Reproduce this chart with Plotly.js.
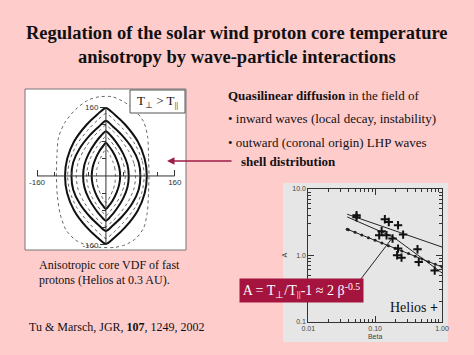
<!DOCTYPE html>
<html>
<head>
<meta charset="utf-8">
<script src="https://cdn.plot.ly/plotly-3.0.1.min.js"></script>
<style>html,body{margin:0;padding:0;background:#FFCCCC;}#chart{width:474px;height:355px;}</style>
</head>
<body>
<div id="chart"></div>
<script>
// ---------- Left panel: VDF contours (quarter profiles, v_par = x, v_perp = y) ----------
const solid1X = [95, 90, 74, 45, 20, 0];
const solid1Y = [0, 40, 80, 119, 143, 158];
const solid2X = [80, 76, 61, 36, 16, 0];
const solid2Y = [0, 32, 64, 96, 115, 128];
const solid3X = [53, 50, 40, 24, 11, 0];
const solid3Y = [0, 26, 52, 78, 94, 104];
const solid4X = [33, 31, 25, 15, 7, 0];
const solid4Y = [0, 19, 38, 58, 69, 77];

const dot2X = [89, 84, 68, 40, 18, 0];
const dot2Y = [0, 36, 73, 109, 131, 145];
const dot3X = [69, 65, 52, 31, 14, 0];
const dot3Y = [0, 30, 59, 89, 106, 118];
const dot4X = [45, 42, 34, 20, 9, 0];
const dot4Y = [0, 23, 46, 69, 83, 92];
const dot5X = [22, 21, 17, 10, 5, 0];
const dot5Y = [0, 16, 31, 47, 56, 62];

// outermost irregular dotted contour (full loop)
const outerDotX = [100, 99, 97, 88, 68, 42, 15, -15, -42, -70, -95, -110, -114, -115, -113, -106, -93, -72, -42, -10, 20, 45, 70, 88, 96, 99, 100];
const outerDotY = [0, 45, 90, 125, 152, 172, 184, 184, 176, 155, 125, 90, 45, 0, -45, -90, -125, -148, -162, -166, -166, -160, -145, -120, -85, -40, 0];

const vdfTickVals = [-160, 160];
const vdfTickText = ['-160', '160'];
const vdfMinor = [-120, -80, -40, 40, 80, 120];

// ---------- Right panel: anisotropy A vs beta ----------
const heliosBeta = [0.0527, 0.0527, 0.1396, 0.160, 0.220, 0.125, 0.115, 0.148, 0.182, 0.262, 0.220, 0.430, 0.213, 0.248, 0.449, 0.778];
const heliosA    = [4.02, 3.75, 3.50, 3.18, 2.84, 2.30, 2.00, 2.00, 1.79, 2.05, 1.26, 1.23, 1.00, 0.92, 0.79, 0.59];

const fitUpperBeta = [0.0382, 1.0];
const fitUpperA    = [4.16, 1.33];
const fitMidBeta   = [0.0382, 0.186, 1.0];
const fitMidA      = [3.79, 1.89, 0.54];
const fitLowBeta   = [0.0382, 0.0398, 0.0501, 0.0631, 0.0794, 0.1, 0.126, 0.158, 0.2, 0.251, 0.316, 0.398, 0.501, 0.631, 0.794, 1.0];
const fitLowA      = [2.47, 2.43, 2.22, 2.02, 1.84, 1.68, 1.53, 1.39, 1.27, 1.16, 1.06, 0.963, 0.878, 0.80, 0.73, 0.665];

const calloutBeta = [0.0592, 0.182];
const calloutA    = [0.419, 1.85];

const betaTickVals = [0.01, 0.1, 1];
const betaTickText = ['0.01', '0.10', '1.00'];
const aTickVals = [0.1, 1, 10];
const aTickText = ['0.1', '1.0', '10.0'];
const betaMinor = [0.02,0.03,0.04,0.05,0.06,0.07,0.08,0.09,0.2,0.3,0.4,0.5,0.6,0.7,0.8,0.9];
const aMinor = [0.2,0.3,0.4,0.5,0.6,0.7,0.8,0.9,2,3,4,5,6,7,8,9];

// ---------- helpers ----------
function mirrorLoop(qx, qy) {
  const X = [], Y = [];
  const n = qx.length;
  for (let i = 0; i < n; i++) { X.push(qx[i]); Y.push(qy[i]); }
  for (let i = n - 2; i >= 0; i--) { X.push(-qx[i]); Y.push(qy[i]); }
  for (let i = 1; i < n; i++) { X.push(-qx[i]); Y.push(-qy[i]); }
  for (let i = n - 2; i >= 0; i--) { X.push(qx[i]); Y.push(-qy[i]); }
  return {X, Y};
}
function contourTrace(qx, qy, solid) {
  const l = mirrorLoop(qx, qy);
  return {
    x: l.X, y: l.Y, xaxis: 'x', yaxis: 'y', mode: 'lines', type: 'scatter',
    hoverinfo: 'skip',
    line: solid ? {color: '#111', width: 2, shape: 'spline', smoothing: 0.7}
                : {color: '#666', width: 1, dash: 'dot', shape: 'spline', smoothing: 0.7}
  };
}
const px = v => v / 474;
const py = v => 1 - v / 355;

const traces = [
  {x: outerDotX, y: outerDotY, xaxis: 'x', yaxis: 'y', mode: 'lines', type: 'scatter', hoverinfo: 'skip',
   line: {color: '#666', width: 1, dash: 'dot', shape: 'spline', smoothing: 0.7}},
  contourTrace(dot2X, dot2Y, false),
  contourTrace(dot3X, dot3Y, false),
  contourTrace(dot4X, dot4Y, false),
  contourTrace(dot5X, dot5Y, false),
  contourTrace(solid1X, solid1Y, true),
  contourTrace(solid2X, solid2Y, true),
  contourTrace(solid3X, solid3Y, true),
  contourTrace(solid4X, solid4Y, true),
  // right panel
  {x: fitUpperBeta, y: fitUpperA, xaxis: 'x2', yaxis: 'y2', mode: 'lines', type: 'scatter',
   line: {color: '#222', width: 1}},
  {x: fitMidBeta, y: fitMidA, xaxis: 'x2', yaxis: 'y2', mode: 'lines', type: 'scatter',
   line: {color: '#222', width: 1}},
  {x: fitLowBeta, y: fitLowA, xaxis: 'x2', yaxis: 'y2', mode: 'lines+markers', type: 'scatter',
   line: {color: '#222', width: 1}, marker: {color: '#222', size: 3}},
  {x: calloutBeta, y: calloutA, xaxis: 'x2', yaxis: 'y2', mode: 'lines', type: 'scatter',
   line: {color: '#222', width: 1}},
  {x: heliosBeta, y: heliosA, xaxis: 'x2', yaxis: 'y2', mode: 'markers', type: 'scatter',
   marker: {symbol: 'cross-thin', size: 6, line: {color: '#111', width: 2}}}
];

const serif = 'Liberation Serif';
const sans = 'Liberation Sans';

const layout = {
  width: 474, height: 355,
  margin: {l: 0, r: 0, t: 0, b: 0},
  paper_bgcolor: '#FFCCCC',
  plot_bgcolor: 'rgba(0,0,0,0)',
  showlegend: false,
  font: {family: serif},
  xaxis: {
    domain: [px(25), px(186)], range: [-188, 186], anchor: 'free', position: py(176),
    tickmode: 'array', tickvals: vdfTickVals, ticktext: vdfTickText,
    ticks: 'inside', ticklen: 6, tickcolor: '#333', showline: false, showgrid: false, zeroline: false,
    minor: {tickmode: 'array', tickvals: vdfMinor, ticks: 'inside', ticklen: 4, tickcolor: '#333', showgrid: false},
    tickfont: {family: sans, size: 8, color: '#333'}, fixedrange: true
  },
  yaxis: {
    domain: [py(250), py(89)], range: [-172, 202], anchor: 'free', position: px(106),
    tickmode: 'array', tickvals: vdfTickVals, ticktext: vdfTickText,
    ticks: 'outside', ticklen: 6, tickcolor: '#333', showline: false, showgrid: false, zeroline: false,
    minor: {tickmode: 'array', tickvals: vdfMinor, ticks: 'outside', ticklen: 4, tickcolor: '#333', showgrid: false},
    tickfont: {family: sans, size: 8, color: '#333'}, fixedrange: true
  },
  xaxis2: {
    type: 'log', domain: [px(308.3), px(442)], range: [-2, 0], anchor: 'y2',
    tickmode: 'array', tickvals: betaTickVals, ticktext: betaTickText,
    ticks: 'inside', ticklen: 6, tickcolor: '#333', mirror: 'allticks', showline: true, linecolor: '#333', linewidth: 1,
    showgrid: false, zeroline: false,
    minor: {tickmode: 'array', tickvals: betaMinor, ticks: 'inside', ticklen: 3, tickcolor: '#333', showgrid: false},
    tickfont: {family: sans, size: 7, color: '#444'},
    title: {text: 'Beta', font: {family: sans, size: 7, color: '#444'}, standoff: 3}
  },
  yaxis2: {
    type: 'log', domain: [py(321.5), py(189)], range: [-1, 1], anchor: 'x2',
    tickmode: 'array', tickvals: aTickVals, ticktext: aTickText,
    ticks: 'inside', ticklen: 6, tickcolor: '#333', mirror: 'allticks', showline: true, linecolor: '#333', linewidth: 1,
    showgrid: false, zeroline: false,
    minor: {tickmode: 'array', tickvals: aMinor, ticks: 'inside', ticklen: 3, tickcolor: '#333', showgrid: false},
    tickfont: {family: sans, size: 7, color: '#444'},
    title: {text: 'A', font: {family: sans, size: 7, color: '#444'}, standoff: 3}
  },
  shapes: [
    {type: 'rect', xref: 'paper', yref: 'paper', x0: px(25), x1: px(186), y0: py(250), y1: py(89),
     fillcolor: '#FFFFFF', line: {color: '#777', width: 1}, layer: 'below'},
    {type: 'rect', xref: 'paper', yref: 'paper', x0: px(283), x1: px(448), y0: py(342), y1: py(183),
     fillcolor: '#E6E6E6', line: {width: 0}, layer: 'below'},
    {type: 'line', xref: 'x', yref: 'y', x0: -160, x1: 160, y0: 0, y1: 0, line: {color: '#333', width: 1}},
    {type: 'line', xref: 'x', yref: 'y', x0: 0, x1: 0, y0: -160, y1: 160, line: {color: '#333', width: 1}},
    {type: 'rect', xref: 'paper', yref: 'paper', x0: px(130), x1: px(185), y0: py(113), y1: py(90),
     fillcolor: '#FFFFFF', line: {color: '#555', width: 1}}
  ],
  annotations: [
    {xref: 'paper', yref: 'paper', x: 0.5, y: py(45), xanchor: 'center', yanchor: 'middle', showarrow: false,
     text: '<b>Regulation of the solar wind proton core temperature<br>anisotropy by wave-particle interactions</b>',
     font: {family: serif, size: 18.5, color: '#111'}},
    {xref: 'paper', yref: 'paper', x: px(157.5), y: py(101.5), xanchor: 'center', yanchor: 'middle', showarrow: false,
     text: 'T<sub>⊥</sub> &gt; T<sub>||</sub>', font: {family: serif, size: 13, color: '#111'}},
    {xref: 'paper', yref: 'paper', x: px(167), y: py(161), ax: 66, ay: 0, showarrow: true, text: '',
     arrowhead: 2, arrowsize: 1, arrowwidth: 1.5, arrowcolor: '#9C1C44'},
    {xref: 'paper', yref: 'paper', x: px(226), y: py(96), xanchor: 'left', yanchor: 'middle', showarrow: false,
     text: '<b>Quasilinear diffusion</b> in the field of', font: {family: serif, size: 13, color: '#111'}},
    {xref: 'paper', yref: 'paper', x: px(226), y: py(118), xanchor: 'left', yanchor: 'middle', showarrow: false,
     text: '• inward waves (local decay, instability)', font: {family: serif, size: 13, color: '#111'}},
    {xref: 'paper', yref: 'paper', x: px(226), y: py(142), xanchor: 'left', yanchor: 'middle', showarrow: false,
     text: '• outward (coronal origin) LHP waves', font: {family: serif, size: 13, color: '#111'}},
    {xref: 'paper', yref: 'paper', x: px(239), y: py(161), xanchor: 'left', yanchor: 'middle', showarrow: false,
     text: '<b>shell distribution</b>', font: {family: serif, size: 13, color: '#111'}},
    {xref: 'paper', yref: 'paper', x: px(37), y: py(265), xanchor: 'left', yanchor: 'middle', showarrow: false,
     text: 'Anisotropic core VDF of fast', font: {family: serif, size: 12, color: '#111'}},
    {xref: 'paper', yref: 'paper', x: px(37), y: py(280), xanchor: 'left', yanchor: 'middle', showarrow: false,
     text: 'protons (Helios at 0.3 AU).', font: {family: serif, size: 12, color: '#111'}},
    {xref: 'paper', yref: 'paper', x: px(27), y: py(327), xanchor: 'left', yanchor: 'middle', showarrow: false,
     text: 'Tu &amp; Marsch, JGR, <b>107</b>, 1249, 2002', font: {family: serif, size: 12, color: '#111'}},
    {xref: 'paper', yref: 'paper', x: px(301.5), y: py(290.5), xanchor: 'center', yanchor: 'middle', showarrow: false,
     text: 'A = T<sub>⊥</sub>/T<sub>||</sub>-1 ≈ 2 β<sup>-0.5</sup>', bgcolor: '#A5143F', borderpad: 3,
     width: 117, height: 17, font: {family: serif, size: 14, color: '#FFFFFF'}},
    {xref: 'paper', yref: 'paper', x: px(388), y: py(307), xanchor: 'left', yanchor: 'middle', showarrow: false,
     text: 'Helios <b>+</b>', font: {family: serif, size: 14, color: '#111'}}
  ]
};

Plotly.newPlot('chart', traces, layout, {displayModeBar: false, staticPlot: true});
</script>
</body>
</html>
